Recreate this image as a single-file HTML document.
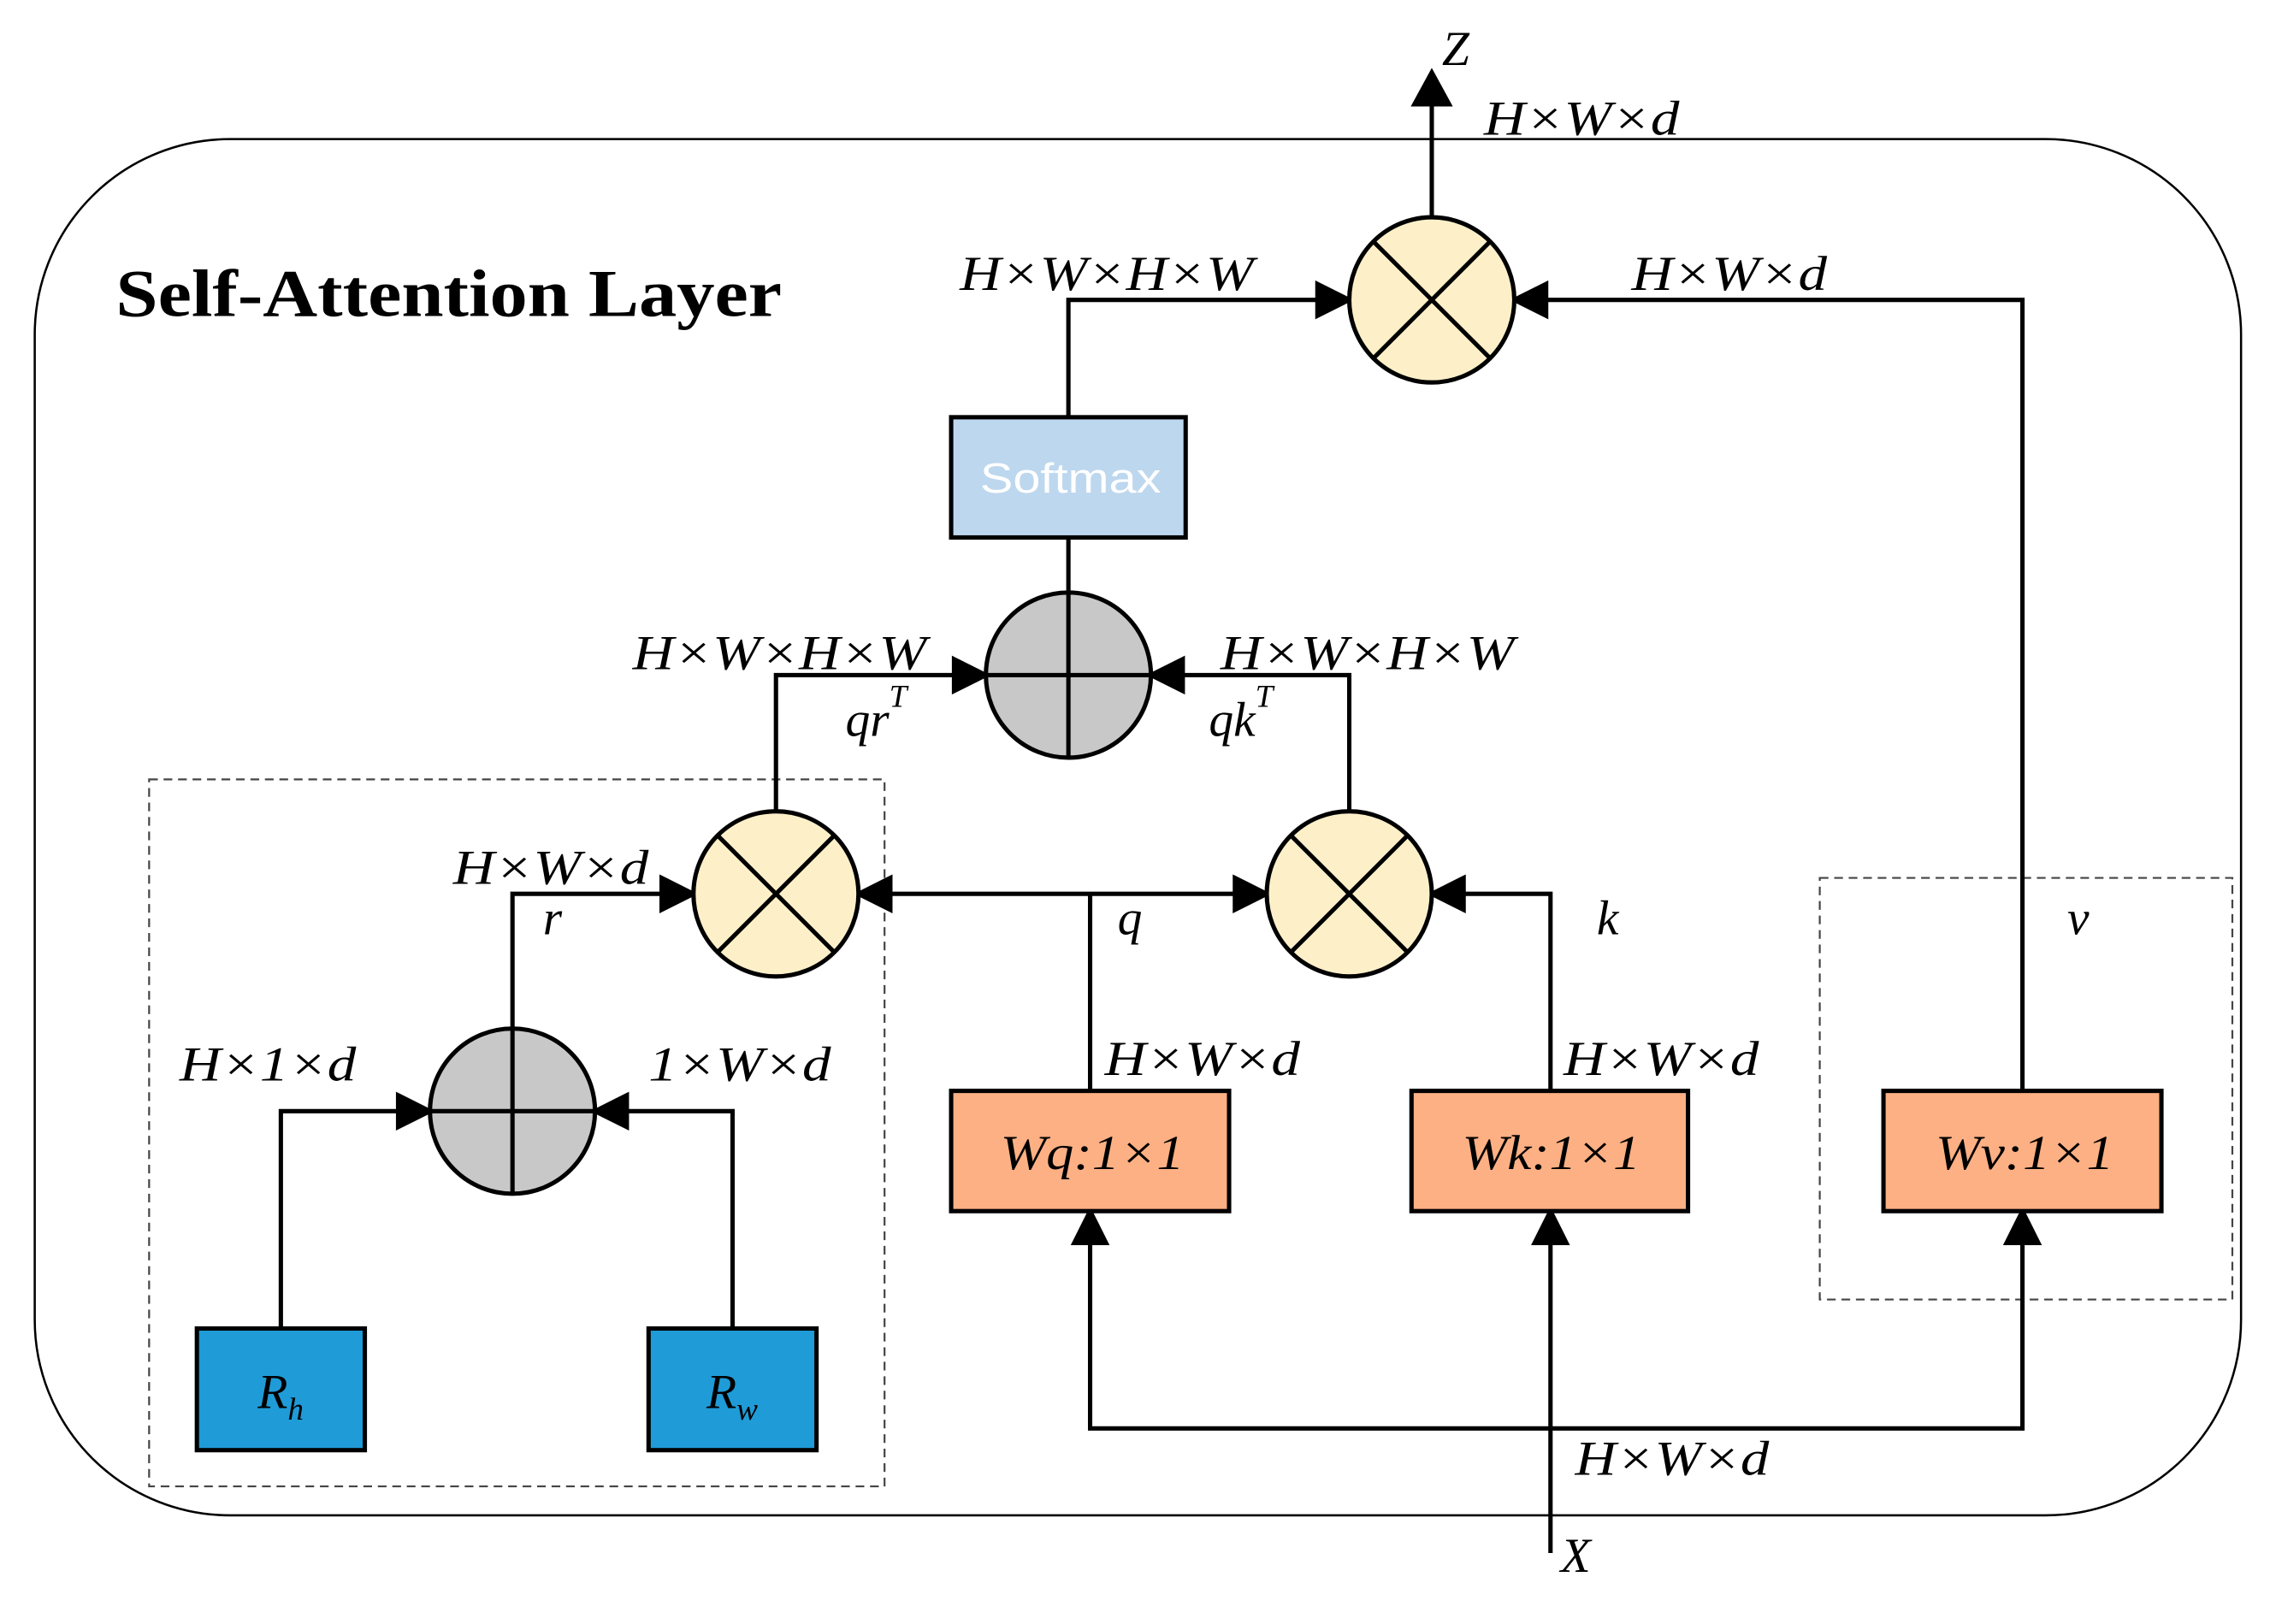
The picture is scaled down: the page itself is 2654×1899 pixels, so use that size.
<!DOCTYPE html>
<html><head><meta charset="utf-8"><style>
html,body{margin:0;padding:0;background:#fff;}
svg{display:block;}
text{font-family:"Liberation Serif",serif;font-style:italic;font-size:34px;fill:#000;}
</style></head><body>
<svg width="2654" height="1899" viewBox="0 0 1568 1121" preserveAspectRatio="none" xmlns="http://www.w3.org/2000/svg">
<rect x="24" y="96" width="1524" height="950" rx="135" ry="135" fill="none" stroke="#000" stroke-width="1.5"/>
<text x="80" y="218" textLength="460" lengthAdjust="spacingAndGlyphs" style="font-style:normal;font-weight:bold;font-size:46px">Self-Attention Layer</text>

<rect x="103" y="538" width="508" height="488" fill="none" stroke="#444" stroke-width="1.3" stroke-dasharray="6,4"/>
<rect x="1257" y="606" width="285" height="291" fill="none" stroke="#444" stroke-width="1.3" stroke-dasharray="6,4"/>

<g stroke="#000" stroke-width="3" fill="none">
<path d="M989,150 L989,52"/>
<path d="M977,72 L989,50 L1001,72 z" fill="#000"/>
<path d="M738,288 L738,207 L930,207"/>
<path d="M910,196 L932,207 L910,218 z" fill="#000"/>
<path d="M1397,753 L1397,207 L1048,207"/>
<path d="M1068,196 L1046,207 L1068,218 z" fill="#000"/>
<path d="M738,371 L738,409"/>
<path d="M536,560 L536,466 L679,466"/>
<path d="M659,455 L681,466 L659,477 z" fill="#000"/>
<path d="M932,560 L932,466 L797,466"/>
<path d="M817,455 L795,466 L817,477 z" fill="#000"/>
<path d="M753,753 L753,617"/>
<path d="M595,617 L873,617"/>
<path d="M615,606 L593,617 L615,628 z" fill="#000"/>
<path d="M853,606 L875,617 L853,628 z" fill="#000"/>
<path d="M1071,753 L1071,617 L991,617"/>
<path d="M1011,606 L989,617 L1011,628 z" fill="#000"/>
<path d="M354,710 L354,617 L477,617"/>
<path d="M457,606 L479,617 L457,628 z" fill="#000"/>
<path d="M194,917 L194,767 L295,767"/>
<path d="M275,756 L297,767 L275,778 z" fill="#000"/>
<path d="M506,917 L506,767 L413,767"/>
<path d="M433,756 L411,767 L433,778 z" fill="#000"/>
<path d="M1071,1072 L1071,838"/>
<path d="M1060,858 L1071,836 L1082,858 z" fill="#000"/>
<path d="M753,838 L753,986 L1397,986 L1397,838"/>
<path d="M742,858 L753,836 L764,858 z" fill="#000"/>
<path d="M1386,858 L1397,836 L1408,858 z" fill="#000"/>
</g>

<g stroke="#000" stroke-width="3">
<circle cx="989" cy="207" r="57" fill="#fdf0c9"/>
<path d="M949,167 L1029,247 M1029,167 L949,247"/>
<circle cx="738" cy="466" r="57" fill="#c8c8c8"/>
<path d="M681,466 L795,466 M738,409 L738,523"/>
<circle cx="536" cy="617" r="57" fill="#fdf0c9"/>
<path d="M496,577 L576,657 M576,577 L496,657"/>
<circle cx="932" cy="617" r="57" fill="#fdf0c9"/>
<path d="M892,577 L972,657 M972,577 L892,657"/>
<circle cx="354" cy="767" r="57" fill="#c8c8c8"/>
<path d="M297,767 L411,767 M354,710 L354,824"/>
</g>

<g stroke="#000" stroke-width="3">
<rect x="657" y="288" width="162" height="83" fill="#bdd7ee"/>
<rect x="657" y="753" width="192" height="83" fill="#fdb084"/>
<rect x="975" y="753" width="191" height="83" fill="#fdb084"/>
<rect x="1301" y="753" width="192" height="83" fill="#fdb084"/>
<rect x="136" y="917" width="116" height="84" fill="#1f9bd7"/>
<rect x="448" y="917" width="116" height="84" fill="#1f9bd7"/>
</g>
<text x="677" y="340" textLength="125" lengthAdjust="spacingAndGlyphs" style="font-family:'Liberation Sans',sans-serif;font-style:normal;font-size:29px;fill:#fff">Softmax</text>
<text x="691" y="807" textLength="127" lengthAdjust="spacingAndGlyphs">Wq:1×1</text>
<text x="1010" y="807" textLength="123" lengthAdjust="spacingAndGlyphs">Wk:1×1</text>
<text x="1337" y="807" textLength="123" lengthAdjust="spacingAndGlyphs">Wv:1×1</text>
<text x="178" y="972">R<tspan style="font-size:22px" dy="8">h</tspan></text>
<text x="488" y="972">R<tspan style="font-size:22px" dy="8">w</tspan></text>

<text x="996" y="45">Z</text>
<text x="1025" y="93" textLength="135" lengthAdjust="spacingAndGlyphs">H×W×d</text>
<text x="663" y="200" textLength="203" lengthAdjust="spacingAndGlyphs">H×W×H×W</text>
<text x="1127" y="200" textLength="135" lengthAdjust="spacingAndGlyphs">H×W×d</text>
<text x="437" y="462" textLength="203" lengthAdjust="spacingAndGlyphs">H×W×H×W</text>
<text x="843" y="462" textLength="203" lengthAdjust="spacingAndGlyphs">H×W×H×W</text>
<text x="584" y="508">qr<tspan style="font-size:22px" dy="-20">T</tspan></text>
<text x="835" y="508">qk<tspan style="font-size:22px" dy="-20">T</tspan></text>
<text x="313" y="610" textLength="135" lengthAdjust="spacingAndGlyphs">H×W×d</text>
<text x="375" y="645">r</text>
<text x="772" y="645">q</text>
<text x="1103" y="645">k</text>
<text x="1428" y="645">v</text>
<text x="124" y="746" textLength="122" lengthAdjust="spacingAndGlyphs">H×1×d</text>
<text x="448" y="746" textLength="126" lengthAdjust="spacingAndGlyphs">1×W×d</text>
<text x="763" y="742" textLength="135" lengthAdjust="spacingAndGlyphs">H×W×d</text>
<text x="1080" y="742" textLength="135" lengthAdjust="spacingAndGlyphs">H×W×d</text>
<text x="1088" y="1018" textLength="134" lengthAdjust="spacingAndGlyphs">H×W×d</text>
<text x="1078" y="1085">X</text>
</svg>
</body></html>
